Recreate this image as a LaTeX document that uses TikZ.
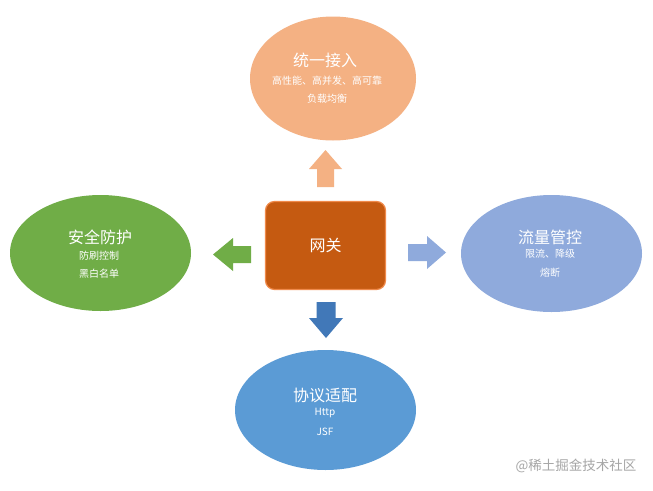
\documentclass[tikz,border=0pt]{standalone}
\usepackage{fontspec}
\setmainfont{Noto Sans CJK SC}
\begin{document}
\begin{tikzpicture}[x=1pt,y=-1pt,
  bubble/.style={ellipse, inner sep=0pt},
  title/.style={text=white, font=\fontsize{16}{17}\selectfont},
  sub/.style={text=white, font=\fontsize{10}{11}\selectfont}]
\usetikzlibrary{shapes.geometric}
\definecolor{cOrange}{HTML}{F4B183}
\definecolor{cGreen}{HTML}{70AD47}
\definecolor{cLblue}{HTML}{8FAADC}
\definecolor{cBlue}{HTML}{5B9BD5}
\definecolor{cDblue}{HTML}{4178B8}
\definecolor{cRust}{HTML}{C55A11}
\definecolor{cEdge}{HTML}{F08A4B}
\definecolor{cMark}{HTML}{A6A6A6}
\useasboundingbox (0,0) rectangle (653,490);
\fill[white] (0,0) rectangle (653,490);
% ellipses
\fill[cOrange] (333,78.5) ellipse [x radius=83, y radius=62];
\fill[cGreen] (100.5,253) ellipse [x radius=90.5, y radius=58];
\fill[cLblue] (551.5,253.5) ellipse [x radius=90.5, y radius=58.5];
\fill[cBlue] (325.5,410) ellipse [x radius=90.5, y radius=60];
% center
\node[draw=cEdge, line width=1.2pt, fill=cRust, rounded corners=9pt,
      minimum width=120pt, minimum height=88pt, inner sep=0pt,
      text=white, font=\fontsize{16}{17}\selectfont] (gw) at (325.5,245.5) {网关};
% block arrows
\fill[cOrange] (325.5,150) -- (342,169) -- (334,169) -- (334,187) -- (317,187) -- (317,169) -- (309,169) -- cycle;
\fill[cGreen] (213,254.5) -- (233,238) -- (233,246) -- (251,246) -- (251,263) -- (233,263) -- (233,271) -- cycle;
\fill[cLblue] (446,252.5) -- (427,236) -- (427,244) -- (408,244) -- (408,261) -- (427,261) -- (427,269) -- cycle;
\fill[cDblue] (326,338) -- (343,318) -- (335.5,318) -- (335.5,302) -- (316.5,302) -- (316.5,318) -- (309,318) -- cycle;
% texts
\node[title] (t1) at (325,60) {统一接入};
\node[sub] (t1a) at (327,81) {高性能、高并发、高可靠};
\node[sub] (t1b) at (327,99) {负载均衡};
\node[title] (t2) at (100,237) {安全防护};
\node[sub] (t2a) at (99,256) {防刷控制};
\node[sub] (t2b) at (99,274) {黑白名单};
\node[title] (t3) at (550,237) {流量管控};
\node[sub] (t3a) at (550,254) {限流、降级};
\node[sub] (t3b) at (550,273) {熔断};
\node[title] (t4) at (325,395) {协议适配};
\node[sub] (t4a) at (325,413) {Http};
\node[sub] (t4b) at (325,432) {JSF};
\node[text=cMark, font=\fontsize{13.5}{14}\selectfont] (wm) at (576,466) {@稀土掘金技术社区};
\end{tikzpicture}
\end{document}
